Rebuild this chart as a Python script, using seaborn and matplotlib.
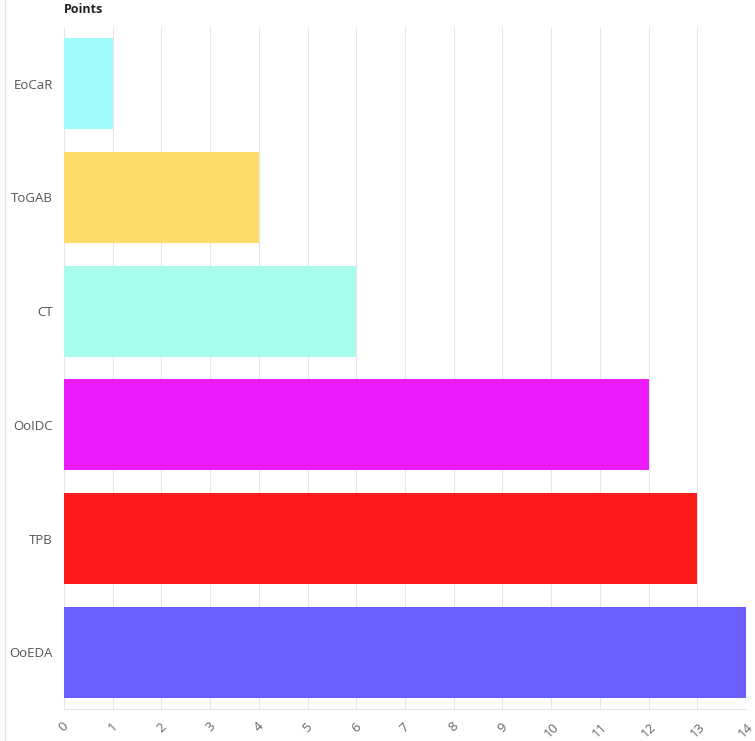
import pandas as pd
import matplotlib
matplotlib.use("Agg")
import matplotlib.pyplot as plt
import seaborn as sns

categories = ["EoCaR", "ToGAB", "CT", "OoIDC", "TPB", "OoEDA"]
points = [1, 4, 6, 12, 13, 14]
bar_colors = ["#a0fbfc", "#fedc6a", "#a8fcec", "#ec1bfc", "#fc1a1a", "#6a5efc"]
x_ticks = list(range(0, 15))

df = pd.DataFrame({"Category": categories, "Points": points})

sns.set_style("white")
plt.rcParams["font.family"] = ["Open Sans", "DejaVu Sans"]

fig = plt.figure(figsize=(7.55, 7.41), dpi=100)
ax = fig.add_axes([64 / 755, 1 - 709 / 741, (746 - 64) / 755, (709 - 27) / 741])

sns.barplot(data=df, x="Points", y="Category", hue="Category",
            palette=bar_colors, legend=False, width=0.8,
            saturation=1, linewidth=0, ax=ax, zorder=3)

ax.set_xlim(0, 14)
ax.set_ylim(5.5, -0.5)
ax.set_xticks(x_ticks)
ax.set_xticklabels([str(t) for t in x_ticks], rotation=45, ha="center",
                   fontsize=9.5, color="#666666")
ax.tick_params(axis="y", labelsize=9.5, labelcolor="#555555", length=4,
               color="#dddddd", pad=4)
ax.tick_params(axis="x", length=4, color="#dddddd", pad=4)
ax.grid(axis="x", color="#e6e6e6", linewidth=0.8, zorder=0)
ax.set_xlabel("")
ax.set_ylabel("")
for side in ["top", "right", "left"]:
    ax.spines[side].set_visible(False)
ax.spines["bottom"].set_color("#e6e6e6")

ax.set_title("Points", loc="left", fontsize=9, fontweight="bold",
             color="#222222", pad=10)

# faint frame line on the left edge
fig.add_artist(plt.Line2D([5 / 755, 5 / 755], [0, 1], color="#e0e0e0",
                          linewidth=1))

fig.savefig("out.png", dpi=100)
plt.close(fig)
